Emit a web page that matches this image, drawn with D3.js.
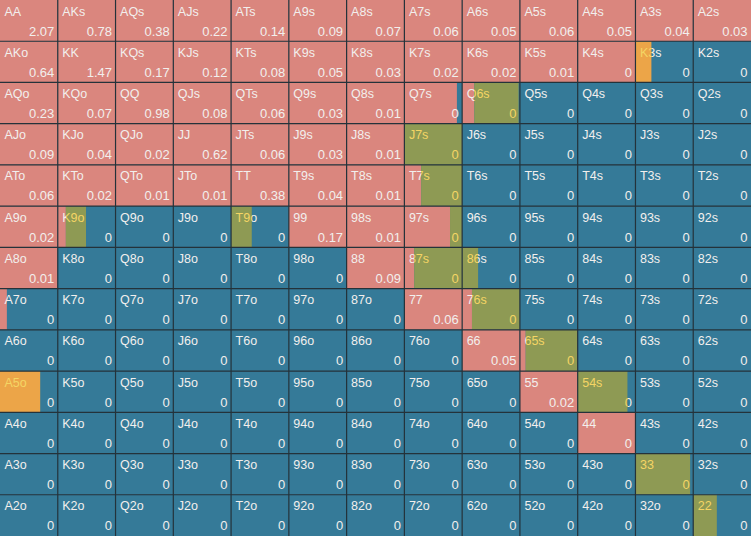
<!DOCTYPE html>
<html>
<head>
<meta charset="utf-8">
<script src="https://cdn.jsdelivr.net/npm/d3@7"></script>
<style>
  html, body { margin: 0; padding: 0; background: #ffffff; }
  svg { display: block; }
</style>
</head>
<body>
<svg id="chart" width="751" height="536"></svg>
<script>
// ---------- data ----------
const ranks = ["A","K","Q","J","T","9","8","7","6","5","4","3","2"];

// EV values per row (row = first rank index, col = second)
const evValues = [
  [2.07,0.78,0.38,0.22,0.14,0.09,0.07,0.06,0.05,0.06,0.05,0.04,0.03],
  [0.64,1.47,0.17,0.12,0.08,0.05,0.03,0.02,0.02,0.01,0,0,0],
  [0.23,0.07,0.98,0.08,0.06,0.03,0.01,0,0,0,0,0,0],
  [0.09,0.04,0.02,0.62,0.06,0.03,0.01,0,0,0,0,0,0],
  [0.06,0.02,0.01,0.01,0.38,0.04,0.01,0,0,0,0,0,0],
  [0.02,0,0,0,0,0.17,0.01,0,0,0,0,0,0],
  [0.01,0,0,0,0,0,0.09,0,0,0,0,0,0],
  [0,0,0,0,0,0,0,0.06,0,0,0,0,0],
  [0,0,0,0,0,0,0,0,0.05,0,0,0,0],
  [0,0,0,0,0,0,0,0,0,0.02,0,0,0],
  [0,0,0,0,0,0,0,0,0,0,0,0,0],
  [0,0,0,0,0,0,0,0,0,0,0,0,0],
  [0,0,0,0,0,0,0,0,0,0,0,0,0]
];

// raise frequency (red)
const raiseFreq = [
  [1,1,1,1,1,1,1,1,1,1,1,1,1],
  [1,1,1,1,1,1,1,1,1,1,1,0,0],
  [1,1,1,1,1,1,1,0.91,0.21,0,0,0,0],
  [1,1,1,1,1,1,1,0,0,0,0,0,0],
  [1,1,1,1,1,1,1,0.29,0,0,0,0,0],
  [1,0.14,0,0,0,1,1,0.79,0,0,0,0,0],
  [1,0,0,0,0,0,1,0.17,0,0,0,0,0],
  [0.12,0,0,0,0,0,0,1,0.17,0,0,0,0],
  [0,0,0,0,0,0,0,0,1,0.10,0,0,0],
  [0,0,0,0,0,0,0,0,0,1,0,0,0],
  [0,0,0,0,0,0,0,0,0,0,1,0,0],
  [0,0,0,0,0,0,0,0,0,0,0,0,0],
  [0,0,0,0,0,0,0,0,0,0,0,0,0]
];

// all-in frequency (orange)
const allinFreq = [
  [0,0,0,0,0,0,0,0,0,0,0,0,0],
  [0,0,0,0,0,0,0,0,0,0,0,0.28,0],
  [0,0,0,0,0,0,0,0,0,0,0,0,0],
  [0,0,0,0,0,0,0,0,0,0,0,0,0],
  [0,0,0,0,0,0,0,0,0,0,0,0,0],
  [0,0,0,0,0,0,0,0,0,0,0,0,0],
  [0,0,0,0,0,0,0,0,0,0,0,0,0],
  [0,0,0,0,0,0,0,0,0,0,0,0,0],
  [0,0,0,0,0,0,0,0,0,0,0,0,0],
  [0.70,0,0,0,0,0,0,0,0,0,0,0,0],
  [0,0,0,0,0,0,0,0,0,0,0,0,0],
  [0,0,0,0,0,0,0,0,0,0,0,0,0],
  [0,0,0,0,0,0,0,0,0,0,0,0,0]
];

// call frequency (olive)
const callFreq = [
  [0,0,0,0,0,0,0,0,0,0,0,0,0],
  [0,0,0,0,0,0,0,0,0,0,0,0,0],
  [0,0,0,0,0,0,0,0,0.77,0,0,0,0],
  [0,0,0,0,0,0,0,1,0,0,0,0,0],
  [0,0,0,0,0,0,0,0.71,0,0,0,0,0],
  [0,0.35,0,0,0.36,0,0,0.21,0,0,0,0,0],
  [0,0,0,0,0,0,0,0.83,0.28,0,0,0,0],
  [0,0,0,0,0,0,0,0,0.83,0,0,0,0],
  [0,0,0,0,0,0,0,0,0,0.90,0,0,0],
  [0,0,0,0,0,0,0,0,0,0,0.865,0,0],
  [0,0,0,0,0,0,0,0,0,0,0,0,0],
  [0,0,0,0,0,0,0,0,0,0,0,0.95,0],
  [0,0,0,0,0,0,0,0,0,0,0,0,0.41]
];

const actionNames = ["raise","allin","call","fold"];
const actionColors = ["#da867e","#eca548","#8e9a54","#357a98"];

// ---------- drawing ----------
const W = 751, H = 536;
const svg = d3.select("#chart");

const x = d3.scaleBand().domain(d3.range(13)).range([0, W]).padding(0);
const y = d3.scaleBand().domain(d3.range(13)).range([0, H]).padding(0);
const color = d3.scaleOrdinal().domain(actionNames).range(actionColors);

function handName(r, c) {
  if (r === c) return ranks[r] + ranks[c];
  const hi = Math.min(r, c), lo = Math.max(r, c);
  return ranks[hi] + ranks[lo] + (c > r ? "s" : "o");
}
function fmt(v) {
  if (v === 0) return "0";
  return d3.format(".2f")(v);
}

const cells = [];
for (let r = 0; r < 13; r++) {
  for (let c = 0; c < 13; c++) {
    const rf = raiseFreq[r][c], af = allinFreq[r][c], cf = callFreq[r][c];
    const ff = Math.max(0, 1 - rf - af - cf);
    const freqs = [rf, af, cf, ff];
    let acc = 0;
    const segs = freqs.map((f, i) => {
      const s = { action: actionNames[i], start: acc, end: acc + f };
      acc += f;
      return s;
    }).filter(s => s.end - s.start > 1e-6);
    cells.push({ r, c, name: handName(r, c), ev: evValues[r][c], segs, id: "c" + r + "_" + c });
  }
}

const defs = svg.append("defs");
const bw = x.bandwidth(), bh = y.bandwidth();
const fx = d3.scaleLinear().domain([0, 1]).range([0, bw]);

const g = svg.selectAll("g.cell").data(cells).join("g")
  .attr("class", "cell")
  .attr("transform", d => `translate(${x(d.c)},${y(d.r)})`);

// background fold colour
g.append("rect")
  .attr("width", bw).attr("height", bh)
  .attr("fill", color("fold"));

g.selectAll("rect.seg").data(d => d.segs).join("rect")
  .attr("class", "seg")
  .attr("x", s => fx(s.start))
  .attr("width", s => fx(s.end) - fx(s.start))
  .attr("height", bh)
  .attr("fill", s => color(s.action));

const isHL = s => s.action === "call" || s.action === "allin";

// clip paths: white text over red/blue, yellow text over olive/orange
cells.forEach(d => {
  d.hasHL = d.segs.some(isHL);
  if (d.hasHL) {
    const cpY = defs.append("clipPath").attr("id", "clipY_" + d.id);
    const cpW = defs.append("clipPath").attr("id", "clipW_" + d.id);
    d.segs.forEach(s => {
      const a = Math.round(x(d.c) + fx(s.start));
      const b = Math.round(x(d.c) + fx(s.end));
      (isHL(s) ? cpY : cpW).append("rect")
        .attr("x", a).attr("y", y(d.r) - 1)
        .attr("width", b - a)
        .attr("height", bh + 2);
    });
  }
});

const fontFam = "'Liberation Sans', Arial, Helvetica, sans-serif";

function addText(sel, fill) {
  sel.append("text")
    .attr("x", 4.5).attr("y", 15.5)
    .attr("font-family", fontFam).attr("font-size", 12.5)
    .attr("fill", fill)
    .text(d => d.name);
  sel.append("text")
    .attr("x", bw - 3.5).attr("y", 35.5)
    .attr("text-anchor", "end")
    .attr("font-family", fontFam).attr("font-size", 13)
    .attr("fill", fill)
    .text(d => fmt(d.ev));
}

const textLayer = svg.append("g");
const tg = textLayer.selectAll("g.t").data(cells).join("g")
  .attr("class", "t")
  .attr("clip-path", d => d.hasHL ? `url(#clipW_${d.id})` : null)
  .append("g")
  .attr("transform", d => `translate(${x(d.c)},${y(d.r)})`);
addText(tg, "#f2efed");

const hg = textLayer.selectAll("g.h").data(cells.filter(d => d.hasHL)).join("g")
  .attr("class", "h")
  .attr("clip-path", d => `url(#clipY_${d.id})`)
  .append("g")
  .attr("transform", d => `translate(${x(d.c)},${y(d.r)})`);
addText(hg, "#f4d564");

// grid lines
const lines = svg.append("g").attr("stroke", "#24323a").attr("stroke-width", 1.2);
lines.selectAll("line.v").data(d3.range(1, 13)).join("line")
  .attr("x1", i => x(i)).attr("x2", i => x(i))
  .attr("y1", 0).attr("y2", H);
lines.selectAll("line.h").data(d3.range(1, 13)).join("line")
  .attr("y1", i => y(i)).attr("y2", i => y(i))
  .attr("x1", 0).attr("x2", W);
</script>
</body>
</html>
